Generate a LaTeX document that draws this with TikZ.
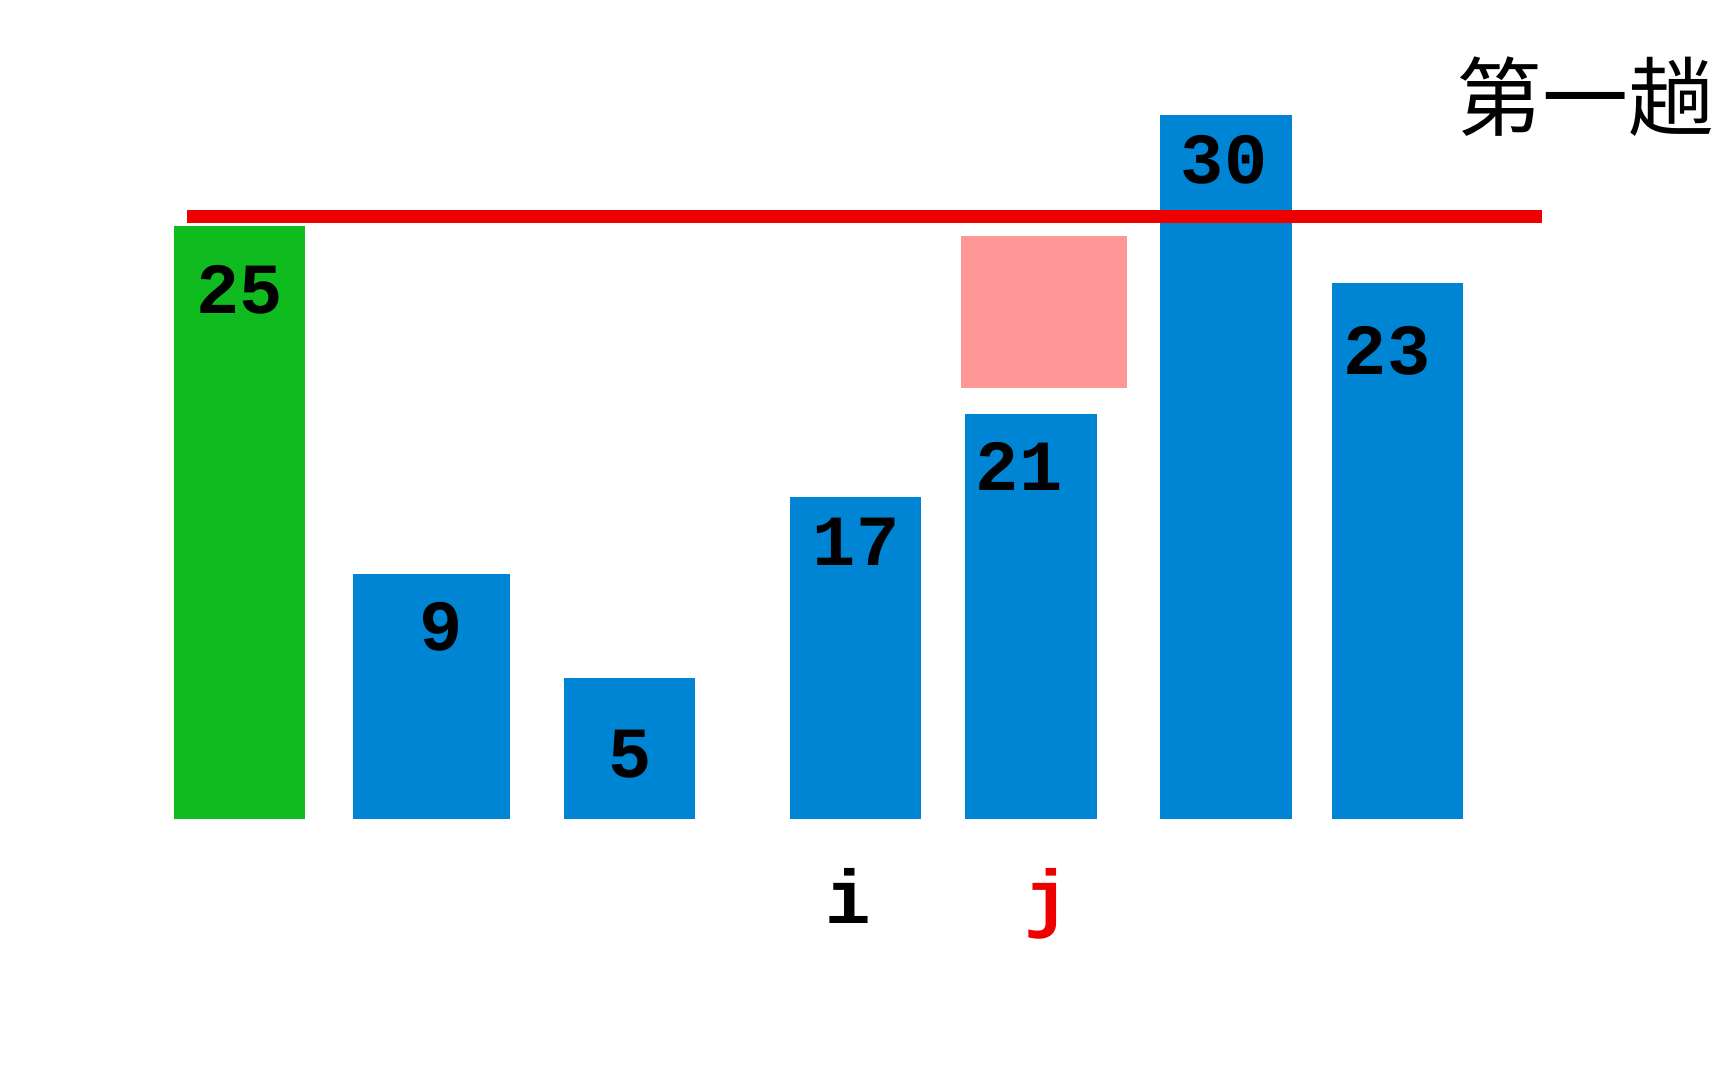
\documentclass[tikz,border=0pt]{standalone}
\usepackage{fontspec}
\newfontfamily\numfont{Liberation Mono}
\newfontfamily\cjkfont{Noto Sans CJK SC}
\definecolor{bargreen}{HTML}{10BB20}
\definecolor{barblue}{HTML}{0084D4}
\definecolor{linered}{HTML}{EE0000}
\definecolor{pinkbox}{HTML}{FF9797}
\begin{document}
\begin{tikzpicture}[x=0.5pt,y=-0.5pt,
  barbox/.style={draw=none,rectangle,inner sep=0pt,anchor=north west},
  numlabel/.style={font=\numfont\bfseries\fontsize{36pt}{36pt}\selectfont,inner sep=0pt,anchor=base},
  idxlabel/.style={font=\numfont\bfseries\fontsize{38pt}{38pt}\selectfont,inner sep=0pt,anchor=base}]
\useasboundingbox[fill=white] (0,0) rectangle (1728,1080);
% bars
\fill[bargreen] (174,226) rectangle (305,819);
\fill[barblue] (353,574) rectangle (510,819);
\fill[barblue] (564,678) rectangle (695,819);
\fill[barblue] (790,497) rectangle (921,819);
\fill[barblue] (965,414) rectangle (1097,819);
\fill[barblue] (1160,115) rectangle (1292,819);
\fill[barblue] (1332,283) rectangle (1463,819);
\fill[pinkbox] (961,236) rectangle (1127,388);
% red line
\coordinate (l1) at (187,217);
\coordinate (l2) at (1542,217);
\draw[linered,line width=6.5pt] (l1) -- (l2);
% numbers
\node[numlabel] (n25) at (240,314) {25};
\node[numlabel] (n9) at (441,650) {9};
\node[numlabel] (n5) at (630,777) {5};
\node[numlabel] (n17) at (856,565) {17};
\node[numlabel] (n21) at (1019,490) {21};
\node[numlabel] (n30) at (1224,184) {30};
\node[numlabel] (n23) at (1387,374) {23};
% indices
\node[idxlabel] (i) at (848,923) {i};
\node[idxlabel,text=linered] (j) at (1047,923) {j};
% title
\node[font=\cjkfont\fontsize{43pt}{43pt}\selectfont,inner sep=0pt] (title) at (1585,97) {第一趟};
\end{tikzpicture}
\end{document}
